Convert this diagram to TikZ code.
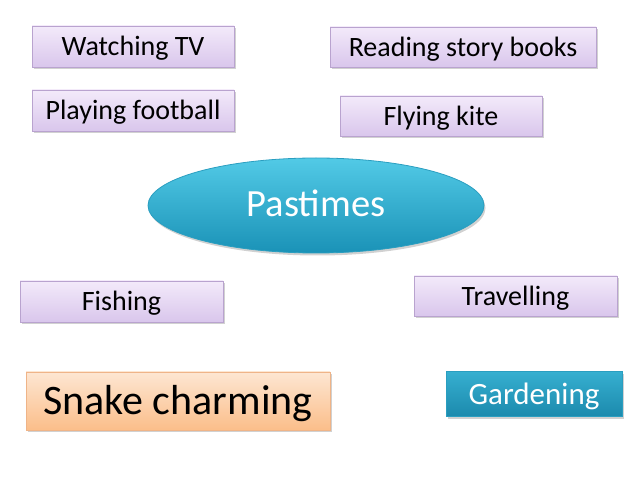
\documentclass[tikz,border=0pt]{standalone}
\usepackage{fontspec}
\setmainfont{Carlito}
\usetikzlibrary{shapes.geometric,shadows}
\definecolor{lavtop}{HTML}{F3EAFA}
\definecolor{lavbot}{HTML}{D9C6EC}
\definecolor{lavline}{HTML}{B9A3CF}
\definecolor{peachtop}{HTML}{FDE6D2}
\definecolor{peachbot}{HTML}{FBBE8A}
\definecolor{peachline}{HTML}{EFB488}
\definecolor{tealtop}{HTML}{52CAE6}
\definecolor{tealbot}{HTML}{1A92B7}
\definecolor{tealline}{HTML}{2A9EC0}
\definecolor{gardtop}{HTML}{36AFD0}
\definecolor{gardbot}{HTML}{1C8AAD}
\tikzset{
  softshadow/.style={drop shadow={shadow xshift=1.5pt,shadow yshift=-2.5pt,opacity=0.3,fill=black!60}},
  lavbox/.style={rectangle,draw=lavline,line width=0.8pt,top color=lavtop,bottom color=lavbot,
    inner sep=0pt,minimum height=41pt,softshadow,font=\fontsize{28}{30}\selectfont,text=black,
    text height=19pt,text depth=0pt},
  peachbox/.style={rectangle,draw=peachline,line width=0.8pt,top color=peachtop,bottom color=peachbot,
    inner sep=0pt,softshadow,font=\fontsize{42}{46}\selectfont,text=black,
    text height=28pt,text depth=0pt},
  gardbox/.style={rectangle,draw=tealline,line width=0.8pt,top color=gardtop,bottom color=gardbot,
    inner sep=0pt,softshadow,font=\fontsize{31}{36}\selectfont,text=white,
    text height=20.5pt,text depth=0pt},
  hub/.style={ellipse,draw=tealline,line width=0.8pt,top color=tealtop,bottom color=tealbot,
    inner sep=0pt,softshadow,font=\fontsize{38.5}{42}\selectfont,text=white,
    text height=22pt,text depth=0pt}
}
\begin{document}
\begin{tikzpicture}[x=1pt,y=-1pt]
\useasboundingbox (0,0) rectangle (638,478);
\node[lavbox,minimum width=202pt] (tv) at (133,46.5) {Watching TV};
\node[lavbox,minimum width=202pt] (football) at (133,110.5) {Playing football};
\node[lavbox,minimum width=266pt,minimum height=40pt] (reading) at (463,47) {Reading story books};
\node[lavbox,minimum width=202pt,minimum height=40pt] (kite) at (441,116) {Flying kite};
\node[hub,minimum width=336pt,minimum height=95pt] (pastimes) at (316,205.5) {Pastimes};
\node[lavbox,minimum width=203pt] (fishing) at (121.5,301.5) {Fishing};
\node[lavbox,minimum width=203pt,minimum height=40pt] (travel) at (515.5,296) {Travelling};
\node[peachbox,minimum width=304pt,minimum height=58pt] (snake) at (178,401) {Snake charming};
\node[gardbox,minimum width=176pt,minimum height=45pt] (garden) at (534,394) {Gardening};
\end{tikzpicture}
\end{document}
